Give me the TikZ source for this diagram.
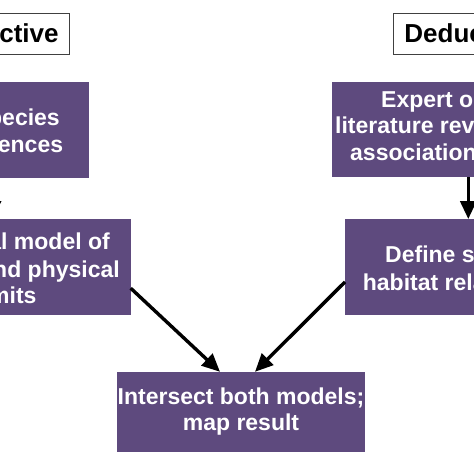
\documentclass[tikz,border=0pt]{standalone}
\usepackage{fontspec}
\setmainfont{Liberation Sans}
\usetikzlibrary{arrows.meta}
\definecolor{boxpurple}{RGB}{94,74,126}
\begin{document}
\begin{tikzpicture}[x=1pt,y=-1pt,
  pbox/.style={fill=boxpurple, draw=none, inner sep=0pt},
  ptext/.style={text=white, inner sep=0pt, font=\fontsize{23}{26}\selectfont\bfseries},
  titlebox/.style={draw=black!75, line width=0.8pt, fill=white, inner xsep=11pt, inner ysep=0pt,
    minimum height=41pt, font=\fontsize{26}{30}\selectfont\bfseries},
  arr/.style={line width=3.4pt, -{Triangle[length=18pt,width=16pt]}}]
\useasboundingbox (0,0) rectangle (474,474);
\clip (0,0) rectangle (474,474);
% titles
\node[titlebox, anchor=east] (ind) at (70,33.5) {Inductive};
\node[titlebox, anchor=west] (ded) at (393,33.5) {Deductive};
% boxes
\node[pbox, minimum width=200pt, minimum height=95.6pt, anchor=north east] (b1) at (89,81.7) {};
\node[pbox, minimum width=250pt, minimum height=96pt, anchor=north east] (b2) at (130.7,219) {};
\node[pbox, minimum width=220pt, minimum height=95.3pt, anchor=north west] (b3) at (331.7,81.7) {};
\node[pbox, minimum width=220pt, minimum height=96pt, anchor=north west] (b4) at (345,219) {};
\node[pbox, minimum width=248pt, minimum height=80pt] (b5) at (241,412) {};
% texts
\node[ptext, anchor=base east] (t1a) at (60,125) {Map species};
\node[ptext, anchor=base east] (t1b) at (63.3,152.7) {occurrences};
\node[ptext, anchor=base east] (t2a) at (110,249) {Empirical model of};
\node[ptext, anchor=base east] (t2b) at (120,277) {species and physical};
\node[ptext, anchor=base east] (t2c) at (36.7,303) {limits};
\node[ptext, anchor=base west] (t3a) at (381,107.7) {Expert opinion or};
\node[ptext, anchor=base west] (t3b) at (335,133.3) {literature review of};
\node[ptext, anchor=base west] (t3c) at (350,160) {associations};
\node[ptext, anchor=base west] (t4a) at (385,262.7) {Define species-};
\node[ptext, anchor=base west] (t4b) at (362.7,290) {habitat relationships};
\node[ptext, align=center] (t5) at (b5.center) {Intersect both models;\\map result};
% arrows
\coordinate (lx) at (-7,0);
\coordinate (rx) at (468.3,0);
\draw[arr] (b1.south -| lx) -- (b2.north -| lx);
\draw[arr] (b3.south -| rx) -- (b4.north -| rx);
\draw[arr] ([yshift=-21pt]b2.east) -- ([xshift=-21pt]b5.north);
\draw[arr] ([yshift=-14.7pt]b4.west) -- ([xshift=14pt]b5.north);
\end{tikzpicture}
\end{document}
